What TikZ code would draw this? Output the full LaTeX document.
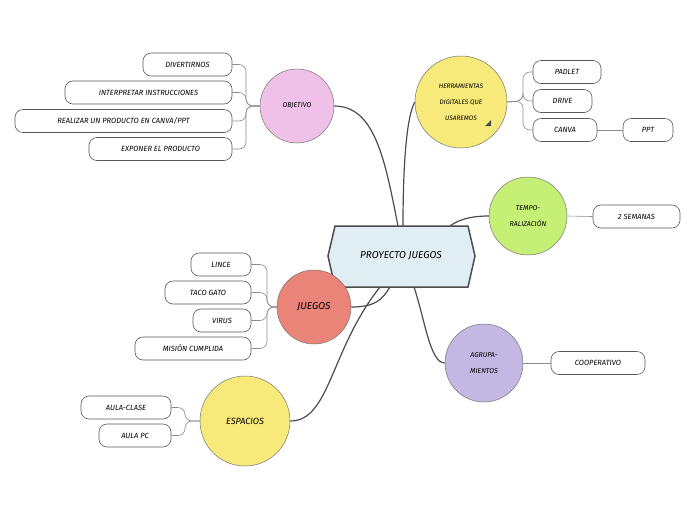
\documentclass[tikz,border=0pt]{standalone}
\usepackage{fontspec}
\setmainfont{Fira Sans}
\begin{document}
\begin{tikzpicture}[x=1pt,y=-1pt,
 circ/.style={circle,draw=black!55,line width=0.5pt,minimum size=#1,inner sep=0pt,align=center,font=\itshape\fontsize{7}{10}\selectfont},
 leaf/.style={draw=black!65,rounded corners=8pt,minimum height=23pt,inner sep=0pt,font=\itshape\fontsize{7.5}{9}\selectfont,line width=0.6pt},
 mainc/.style={draw=black!70,line width=1.2pt},
 subc/.style={draw=black!45,line width=0.6pt,rounded corners=7pt}]
\useasboundingbox (0,0) rectangle (696,520);
% central
\coordinate (c1) at (335,226);
\draw[fill=cyan!8!blue!6,draw=black!70,line width=1.5pt,fill={rgb,255:red,224;green,238;blue,244}] (335,226)--(468,226)--(475,256)--(468,287)--(335,287)--(328,256)--cycle;
\node[font=\itshape\fontsize{10}{12}\selectfont] (center) at (401,256) {PROYECTO JUEGOS};
% circles
\node[circ=74pt,fill={rgb,255:red,239;green,193;blue,232}] (obj) at (297,106) {OBJETIVO};
\node[circ=92pt,fill={rgb,255:red,248;green,234;blue,122},font=\itshape\fontsize{6.5}{16}\selectfont] (her) at (461,102) {HERRAMIENTAS\\DIGITALES QUE\\USAREMOS};
\fill[black!70] (485,126)--(491,120)--(491,126)--cycle;
\node[circ=78pt,fill={rgb,255:red,198;green,239;blue,117},font=\itshape\fontsize{7}{16}\selectfont] (tem) at (528,216) {TEMPO-\\RALIZACIÓN};
\node[circ=78pt,fill={rgb,255:red,195;green,183;blue,228},font=\itshape\fontsize{7}{16}\selectfont] (agr) at (484,363) {AGRUPA-\\MIENTOS};
\node[circ=74pt,fill={rgb,255:red,234;green,131;blue,120},font=\itshape\fontsize{10}{12}\selectfont] (jue) at (314,307) {JUEGOS};
\node[circ=90pt,fill={rgb,255:red,248;green,234;blue,122},font=\itshape\fontsize{9}{12}\selectfont] (esp) at (245,421) {ESPACIOS};
% main connectors
\draw[mainc] (obj.east) .. controls (375,106) and (385,160) .. (398,226);
\draw[mainc] (her.west) .. controls (405,120) and (403,180) .. (403,226);
\draw[mainc] (tem.west) .. controls (470,216) and (458,220) .. (450,226);
\draw[mainc] (agr.west) .. controls (430,363) and (425,320) .. (414,287);
\draw[mainc] (jue.east) .. controls (375,307) and (382,300) .. (390,287);
\draw[mainc] (esp.east) .. controls (330,421) and (330,350) .. (380,287);
% leaves
\node[leaf,minimum width=89pt] (l1) at (187.5,64.5) {DIVERTIRNOS};
\node[leaf,minimum width=167pt] (l2) at (148.5,92.5) {INTERPRETAR INSTRUCCIONES};
\node[leaf,minimum width=217pt] (l3) at (123.5,121) {REALIZAR UN PRODUCTO EN CANVA/PPT};
\node[leaf,minimum width=143pt] (l4) at (160.5,149) {EXPONER EL PRODUCTO};
\foreach \l in {l1,l2,l3,l4} \draw[subc] (\l.east) -| (246,106) -- (obj.west);
\node[leaf,minimum width=68pt] (p1) at (567,72) {PADLET};
\node[leaf,minimum width=59pt] (p2) at (562.5,101) {DRIVE};
\node[leaf,minimum width=64pt] (p3) at (565,130) {CANVA};
\node[leaf,minimum width=50pt] (p4) at (648,130) {PPT};
\foreach \l in {p1,p2,p3} \draw[subc] (\l.west) -| (523,101) -- (her.east);
\draw[subc] (p3.east) -- (p4.west);
\node[leaf,minimum width=87pt] (s1) at (636.5,216.5) {2 SEMANAS};
\draw[subc] (tem.east) -- (s1.west);
\node[leaf,minimum width=94pt] (co) at (598,363) {COOPERATIVO};
\draw[subc] (agr.east) -- (co.west);
\node[leaf,minimum width=60pt] (j1) at (221,264.5) {LINCE};
\node[leaf,minimum width=86pt] (j2) at (208,292.5) {TACO GATO};
\node[leaf,minimum width=58pt] (j3) at (222,320.5) {VIRUS};
\node[leaf,minimum width=116pt] (j4) at (193,348.5) {MISIÓN CUMPLIDA};
\foreach \l in {j1,j2,j3,j4} \draw[subc] (\l.east) -| (267,307) -- (jue.west);
\node[leaf,minimum width=90pt] (e1) at (126,407.5) {AULA-CLASE};
\node[leaf,minimum width=72pt] (e2) at (135,435.5) {AULA PC};
\foreach \l in {e1,e2} \draw[subc] (\l.east) -| (185,421) -- (esp.west);
\end{tikzpicture}
\end{document}
